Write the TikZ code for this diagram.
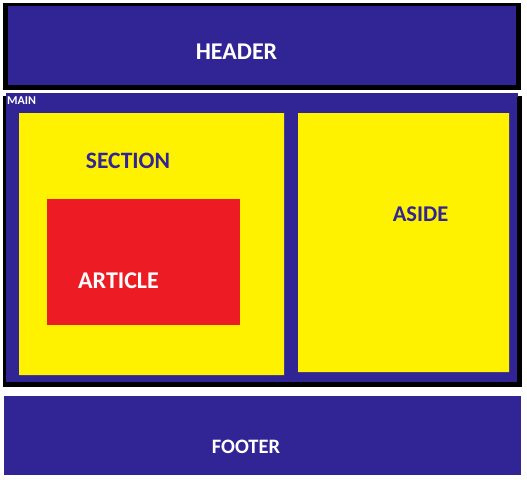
\documentclass[tikz,border=0pt]{standalone}
\usepackage{fontspec}
\setmainfont{Carlito}
\usepackage{tikz}
\usepackage{tkz-euclide}
\usepackage{xcolor}
\definecolor{paintblue}{RGB}{49,37,149}
\definecolor{paintyellow}{RGB}{255,242,0}
\definecolor{paintred}{RGB}{237,28,36}

\begin{document}
\begin{tikzpicture}[x=1pt,y=-1pt,
    tag/.style={inner sep=0pt,font=\bfseries\fontsize{#1}{#1}\selectfont}]
    \useasboundingbox (0,0) rectangle (527,479);
    \tkzDefPoints{3/3/H1,521/90/H2,8/6/H3,516/85/H4}
    \tkzDefPoints{3/96/M1,522/387/M2,6/93/M3,517/382/M4,518/97/M5}
    \tkzDefPoints{19/113/S1,284/375/S2,47/199/A1,240/325/A2}
    \tkzDefPoints{298/113/D1,509/372/D2,4/396/F1,521/475/F2}
    \fill[black] (H1) rectangle (H2); \fill[paintblue] (H3) rectangle (H4);
    \fill[black] (M1) rectangle (M2); \fill[paintblue] (M3) rectangle (M4);
    \fill[paintblue] (M3) rectangle (M5);
    \fill[paintyellow] (S1) rectangle (S2) (D1) rectangle (D2);
    \fill[paintred] (A1) rectangle (A2);
    \fill[paintblue] (F1) rectangle (F2);
    \node[tag=24,white] (header) at (236.5,51.5) {HEADER};
    \node[tag=12,white,anchor=west] (main) at (7,100.5) {MAIN};
    \node[tag=23.5,paintblue] (section) at (128,160.5) {SECTION};
    \node[tag=24,white] (article) at (118.5,280.5) {ARTICLE};
    \node[tag=22.5,paintblue] (aside) at (420.5,214.5) {ASIDE};
    \node[tag=20.5,white] (footer) at (246,447) {FOOTER};
\end{tikzpicture}
\end{document}
